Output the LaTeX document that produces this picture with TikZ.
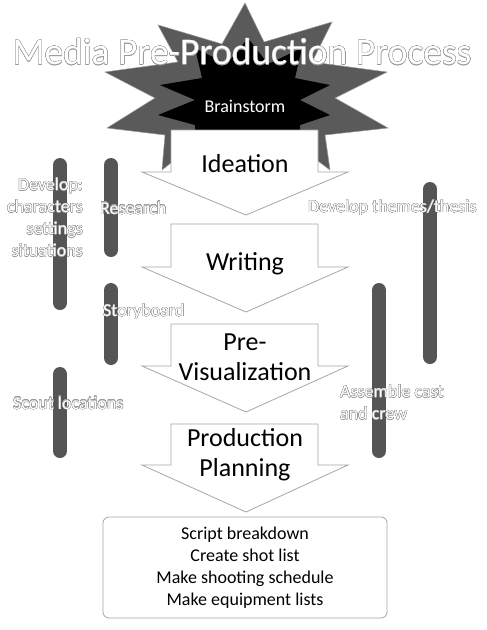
\documentclass[tikz,border=0pt]{standalone}
\usepackage{fontspec}
\setmainfont{Carlito}
\usepackage{contour}
\contourlength{0.3pt}
\contournumber{24}
\definecolor{bargray}{HTML}{555555}
\definecolor{stargray}{HTML}{5A5A5A}
\definecolor{outl}{HTML}{999999}
\newcommand{\olt}[1]{\textcolor{white}{\contour{outl}{#1}}}
\tikzset{
  bar/.style={draw=bargray, line width=14pt, line cap=round},
  flowarrow/.style={draw=gray!70, fill=white, line width=0.8pt, line join=miter},
  arrowtext/.style={font=\fontsize{26}{30}\selectfont, align=center, inner sep=0pt},
  sidelabel/.style={font=\fontsize{18}{22}\selectfont, inner sep=0pt},
}
\begin{document}
\begin{tikzpicture}[x=1pt, y=-1pt]
\useasboundingbox (0,0) rectangle (487,630);
\fill[white] (0,0) rectangle (487,630);

% vertical bars
\draw[bar] (60,165) -- (60,303);
\draw[bar] (111,165) -- (111,250);
\draw[bar] (111,290) -- (111,358);
\draw[bar] (60,374) -- (60,451);
\draw[bar] (430,189) -- (430,357);
\draw[bar] (379,290) -- (379,451);

% explosion (outer gray)
\fill[stargray, draw=gray!80, line width=0.5pt]
  (245,3) -- (264,42) -- (332,22) -- (312,62) -- (387,72) -- (335,98)
  -- (388,128) -- (325,135) -- (330,170) -- (290,140) -- (245,175)
  -- (200,140) -- (162,170) -- (165,135) -- (107,128) -- (155,98)
  -- (105,72) -- (178,62) -- (158,25) -- (222,44) -- cycle;
% explosion (inner black)
\fill[black]
  (160,85) -- (202,78) -- (195,48) -- (227,64) -- (248,38) -- (268,64)
  -- (302,48) -- (295,78) -- (330,85) -- (300,100) -- (330,115)
  -- (300,125) -- (300,140) -- (195,140) -- (195,125) -- (158,115)
  -- (195,100) -- cycle;

% title
\node[inner sep=0pt, font=\fontsize{37.5}{40}\selectfont] (title) at (242,52) {\olt{Media Pre-Production Process}};
\node[inner sep=0pt, text=white, font=\fontsize{18}{22}\selectfont] (brain) at (245,106) {Brainstorm};

% flow arrows
\foreach \t/\w/\b in {130/172/215, 224/267/312, 324/366/412, 424/465/512}{
  \draw[flowarrow] (171,\t) -- (318,\t) -- (318,\w) -- (348,\w) -- (246,\b)
    -- (142,\w) -- (171,\w) -- cycle;
}
\node[arrowtext] (ideation) at (245,164) {Ideation};
\node[arrowtext] (writing) at (245,264) {Writing};
\node[arrowtext] (previs) at (245,357) {Pre-\\Visualization};
\node[arrowtext] (prodplan) at (245,455) {Production\\Planning};

% bottom box
\node[draw=gray!70, line width=0.8pt, rounded corners=6pt, minimum width=284pt,
  minimum height=101pt, align=center, font=\fontsize{18}{22}\selectfont, inner sep=0pt]
  (tasks) at (245,567.5) {Script breakdown\\Create shot list\\Make shooting schedule\\Make equipment lists};

% side labels
\node[sidelabel, align=right, anchor=north east] (develop) at (83,178) {\olt{Develop:}\\\olt{characters}\\\olt{settings}\\\olt{situations}};
\node[sidelabel, anchor=west] (research) at (100,208) {\olt{Research}};
\node[sidelabel, anchor=west] (themes) at (308,208) {\olt{Develop themes/thesis}};
\node[sidelabel, anchor=west] (story) at (103,312) {\olt{Storyboard}};
\node[sidelabel, anchor=west] (scout) at (13,403) {\olt{Scout locations}};
\node[sidelabel, align=left, anchor=north west] (cast) at (340,385) {\olt{Assemble cast}\\\olt{and crew}};
\end{tikzpicture}
\end{document}
